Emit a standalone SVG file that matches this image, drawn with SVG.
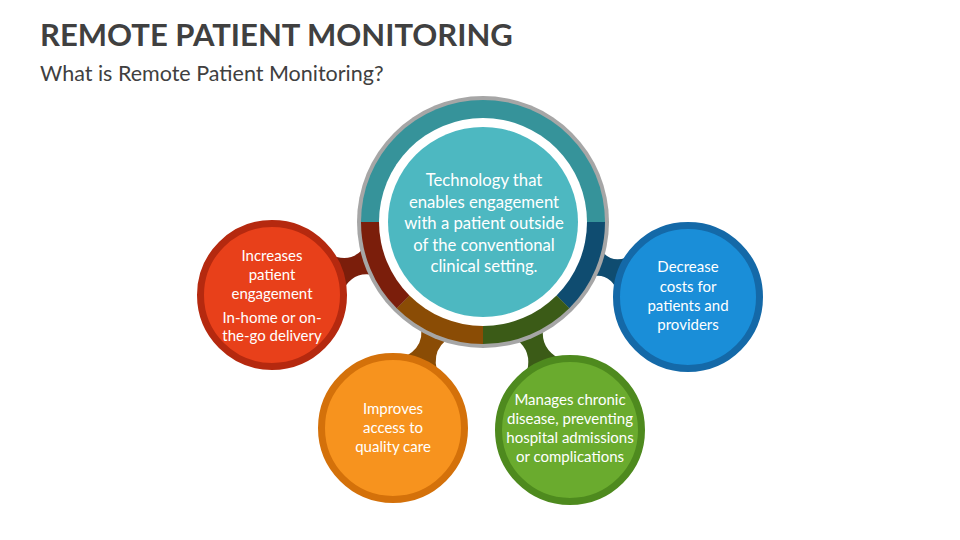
<svg xmlns="http://www.w3.org/2000/svg" width="960" height="540" viewBox="0 0 960 540">
<style>
.t{font-family:Lato,"Liberation Sans",sans-serif;fill:#fff;text-anchor:middle}
.c{font-size:16.7px}
.s{font-size:15px}
.title{font-family:Lato,"Liberation Sans",sans-serif;font-weight:bold;font-size:31px;fill:#404040}
.sub{font-family:Lato,"Liberation Sans",sans-serif;font-size:21.5px;fill:#404040}
</style>
<rect width="960" height="540" fill="#fff"/>
<text class="title" x="40" y="46">REMOTE PATIENT MONITORING</text>
<text class="sub" x="40" y="81">What is Remote Patient Monitoring?</text>
<g id="connectors">
<path d="M326.2,252.9 Q356.0,268.0 370.0,237.8 L384.4,279.4 Q354.6,264.3 340.6,294.5 Z" fill="#7B1E0B"/>
<path d="M634.6,253.9 Q606.9,269.4 595.8,239.8 L580.6,281.2 Q608.3,265.7 619.4,295.3 Z" fill="#0F4C70"/>
<path d="M439.2,377.3 Q426.8,345.75 458.4,333.4 L418.0,315.8 Q430.4,347.35 398.8,359.7 Z" fill="#8A4C05"/>
<path d="M565.2,361.6 Q533.7,348.5 546.5,316.8 L505.9,333.8 Q537.4,346.9 524.6,378.6 Z" fill="#3B5B17"/>
</g>
<g id="center">
<circle cx="483" cy="222" r="126" fill="#A6A6A6"/>
<path d="M361,222 A122,122 0 0 1 605,222 L483,222 Z" fill="#36939A"/>
<path d="M605,222 A122,122 0 0 1 569.3,308.3 L483,222 Z" fill="#0F4C70"/>
<path d="M569.3,308.3 A122,122 0 0 1 483,344 L483,222 Z" fill="#3B5B17"/>
<path d="M483,344 A122,122 0 0 1 396.7,308.3 L483,222 Z" fill="#8A4C05"/>
<path d="M396.7,308.3 A122,122 0 0 1 361,222 L483,222 Z" fill="#7B1E0B"/>
<circle cx="483" cy="222" r="104" fill="#fff"/>
<circle cx="483" cy="222" r="95" fill="#4DB8C1"/>
<text class="t c" x="484" y="186">Technology that</text>
<text class="t c" x="484" y="207.5">enables engagement</text>
<text class="t c" x="484" y="229">with a patient outside</text>
<text class="t c" x="484" y="250.5">of the conventional</text>
<text class="t c" x="484" y="272">clinical setting.</text>
</g>
<g id="engagement">
<circle cx="272" cy="295" r="71.5" fill="#E8401A" stroke="#B5290F" stroke-width="7"/>
<text class="t s" x="272" y="261">Increases</text>
<text class="t s" x="272" y="280">patient</text>
<text class="t s" x="272" y="299">engagement</text>
<text class="t s" x="272" y="323">In-home or on-</text>
<text class="t s" x="272" y="341">the-go delivery</text>
</g>
<g id="costs">
<circle cx="688" cy="297" r="71.5" fill="#1A8ED8" stroke="#1469A8" stroke-width="7"/>
<text class="t s" x="688" y="272">Decrease</text>
<text class="t s" x="688" y="292">costs for</text>
<text class="t s" x="688" y="311">patients and</text>
<text class="t s" x="688" y="330">providers</text>
</g>
<g id="access">
<circle cx="393" cy="428" r="71.5" fill="#F7931E" stroke="#D4710A" stroke-width="7"/>
<text class="t s" x="393" y="414">Improves</text>
<text class="t s" x="393" y="433">access to</text>
<text class="t s" x="393" y="452">quality care</text>
</g>
<g id="chronic">
<circle cx="570" cy="430" r="71.5" fill="#6AAB2E" stroke="#4E8A1E" stroke-width="7"/>
<text class="t s" x="570" y="405">Manages chronic</text>
<text class="t s" x="570" y="424">disease, preventing</text>
<text class="t s" x="570" y="443">hospital admissions</text>
<text class="t s" x="570" y="462">or complications</text>
</g>
</svg>
